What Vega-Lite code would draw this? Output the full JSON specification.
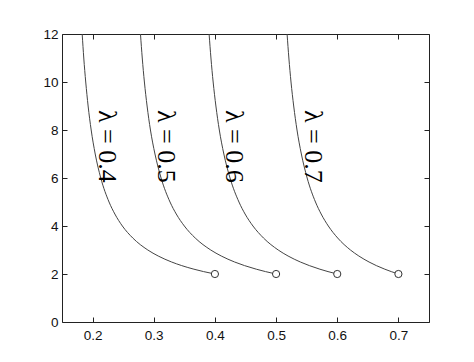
{
  "$schema": "https://vega.github.io/schema/vega-lite/v6.json",
  "width": 367,
  "height": 288,
  "autosize": {"type": "none"},
  "padding": {"left": 62, "top": 34, "right": 45, "bottom": 40},
  "background": "white",
  "config": {
    "view": {"stroke": null},
    "axis": {
      "grid": false,
      "domainColor": "#222",
      "domainWidth": 1,
      "tickColor": "#222",
      "tickWidth": 1,
      "tickSize": -5,
      "labelFont": "Liberation Sans",
      "labelFontSize": 13.5,
      "labelColor": "#111",
      "title": null
    }
  },
  "datasets": {
    "curves": [
      {"lam": "0.4", "x": 0.4000, "y": 2},
      {"lam": "0.4", "x": 0.3815, "y": 2.1},
      {"lam": "0.4", "x": 0.3657, "y": 2.2},
      {"lam": "0.4", "x": 0.3457, "y": 2.35},
      {"lam": "0.4", "x": 0.3292, "y": 2.5},
      {"lam": "0.4", "x": 0.3073, "y": 2.75},
      {"lam": "0.4", "x": 0.2903, "y": 3},
      {"lam": "0.4", "x": 0.2657, "y": 3.5},
      {"lam": "0.4", "x": 0.2487, "y": 4},
      {"lam": "0.4", "x": 0.2364, "y": 4.5},
      {"lam": "0.4", "x": 0.2269, "y": 5},
      {"lam": "0.4", "x": 0.2134, "y": 6},
      {"lam": "0.4", "x": 0.2043, "y": 7},
      {"lam": "0.4", "x": 0.1977, "y": 8},
      {"lam": "0.4", "x": 0.1927, "y": 9},
      {"lam": "0.4", "x": 0.1888, "y": 10},
      {"lam": "0.4", "x": 0.1856, "y": 11},
      {"lam": "0.4", "x": 0.1830, "y": 12},
      {"lam": "0.5", "x": 0.5000, "y": 2},
      {"lam": "0.5", "x": 0.4827, "y": 2.1},
      {"lam": "0.5", "x": 0.4677, "y": 2.2},
      {"lam": "0.5", "x": 0.4484, "y": 2.35},
      {"lam": "0.5", "x": 0.4322, "y": 2.5},
      {"lam": "0.5", "x": 0.4104, "y": 2.75},
      {"lam": "0.5", "x": 0.3932, "y": 3},
      {"lam": "0.5", "x": 0.3678, "y": 3.5},
      {"lam": "0.5", "x": 0.3500, "y": 4},
      {"lam": "0.5", "x": 0.3368, "y": 4.5},
      {"lam": "0.5", "x": 0.3266, "y": 5},
      {"lam": "0.5", "x": 0.3120, "y": 6},
      {"lam": "0.5", "x": 0.3020, "y": 7},
      {"lam": "0.5", "x": 0.2946, "y": 8},
      {"lam": "0.5", "x": 0.2891, "y": 9},
      {"lam": "0.5", "x": 0.2847, "y": 10},
      {"lam": "0.5", "x": 0.2812, "y": 11},
      {"lam": "0.5", "x": 0.2783, "y": 12},
      {"lam": "0.6", "x": 0.6000, "y": 2},
      {"lam": "0.6", "x": 0.5849, "y": 2.1},
      {"lam": "0.6", "x": 0.5716, "y": 2.2},
      {"lam": "0.6", "x": 0.5544, "y": 2.35},
      {"lam": "0.6", "x": 0.5397, "y": 2.5},
      {"lam": "0.6", "x": 0.5196, "y": 2.75},
      {"lam": "0.6", "x": 0.5035, "y": 3},
      {"lam": "0.6", "x": 0.4794, "y": 3.5},
      {"lam": "0.6", "x": 0.4622, "y": 4},
      {"lam": "0.6", "x": 0.4493, "y": 4.5},
      {"lam": "0.6", "x": 0.4393, "y": 5},
      {"lam": "0.6", "x": 0.4247, "y": 6},
      {"lam": "0.6", "x": 0.4146, "y": 7},
      {"lam": "0.6", "x": 0.4072, "y": 8},
      {"lam": "0.6", "x": 0.4016, "y": 9},
      {"lam": "0.6", "x": 0.3971, "y": 10},
      {"lam": "0.6", "x": 0.3935, "y": 11},
      {"lam": "0.6", "x": 0.3905, "y": 12},
      {"lam": "0.7", "x": 0.7000, "y": 2},
      {"lam": "0.7", "x": 0.6883, "y": 2.1},
      {"lam": "0.7", "x": 0.6778, "y": 2.2},
      {"lam": "0.7", "x": 0.6639, "y": 2.35},
      {"lam": "0.7", "x": 0.6520, "y": 2.5},
      {"lam": "0.7", "x": 0.6353, "y": 2.75},
      {"lam": "0.7", "x": 0.6216, "y": 3},
      {"lam": "0.7", "x": 0.6007, "y": 3.5},
      {"lam": "0.7", "x": 0.5854, "y": 4},
      {"lam": "0.7", "x": 0.5737, "y": 4.5},
      {"lam": "0.7", "x": 0.5644, "y": 5},
      {"lam": "0.7", "x": 0.5508, "y": 6},
      {"lam": "0.7", "x": 0.5413, "y": 7},
      {"lam": "0.7", "x": 0.5342, "y": 8},
      {"lam": "0.7", "x": 0.5288, "y": 9},
      {"lam": "0.7", "x": 0.5244, "y": 10},
      {"lam": "0.7", "x": 0.5209, "y": 11},
      {"lam": "0.7", "x": 0.5180, "y": 12}
    ],
    "ends": [
      {"x": 0.4, "y": 2},
      {"x": 0.5, "y": 2},
      {"x": 0.6, "y": 2},
      {"x": 0.7, "y": 2}
    ],
    "labels": [
      {"x": 0.2235, "y": 7.32, "t": "λ = 0.4"},
      {"x": 0.3205, "y": 7.32, "t": "λ = 0.5"},
      {"x": 0.4312, "y": 7.32, "t": "λ = 0.6"},
      {"x": 0.5597, "y": 7.32, "t": "λ = 0.7"}
    ]
  },
  "layer": [
    {
      "data": {"name": "curves"},
      "mark": {"type": "line", "interpolate": "monotone", "color": "#444", "strokeWidth": 1, "clip": true},
      "encoding": {
        "x": {"field": "x", "type": "quantitative", "scale": {"domain": [0.15, 0.75], "nice": false, "zero": false},
              "axis": {"orient": "bottom", "values": [0.2, 0.3, 0.4, 0.5, 0.6, 0.7], "format": ".1f", "labelPadding": 11}},
        "y": {"field": "y", "type": "quantitative", "scale": {"domain": [0, 12], "nice": false},
              "axis": {"orient": "left", "values": [0, 2, 4, 6, 8, 10, 12], "labelPadding": 9}},
        "detail": {"field": "lam"},
        "order": {"field": "x"}
      }
    },
    {
      "data": {"name": "ends"},
      "mark": {"type": "point", "shape": "circle", "size": 52, "fill": "white", "stroke": "#333", "strokeWidth": 1, "opacity": 1},
      "encoding": {
        "x": {"field": "x", "type": "quantitative", "axis": {"orient": "top", "values": [0.2, 0.3, 0.4, 0.5, 0.6, 0.7], "labels": false}},
        "y": {"field": "y", "type": "quantitative", "axis": {"orient": "right", "values": [0, 2, 4, 6, 8, 10, 12], "labels": false}}
      }
    },
    {
      "data": {"name": "labels"},
      "mark": {"type": "text", "angle": 90, "align": "center", "baseline": "middle", "font": "Times New Roman, Liberation Serif, serif", "fontSize": 26, "color": "#000"},
      "encoding": {
        "x": {"field": "x", "type": "quantitative", "axis": null},
        "y": {"field": "y", "type": "quantitative", "axis": null},
        "text": {"field": "t"}
      }
    }
  ],
  "resolve": {"axis": {"x": "independent", "y": "independent"}}
}
